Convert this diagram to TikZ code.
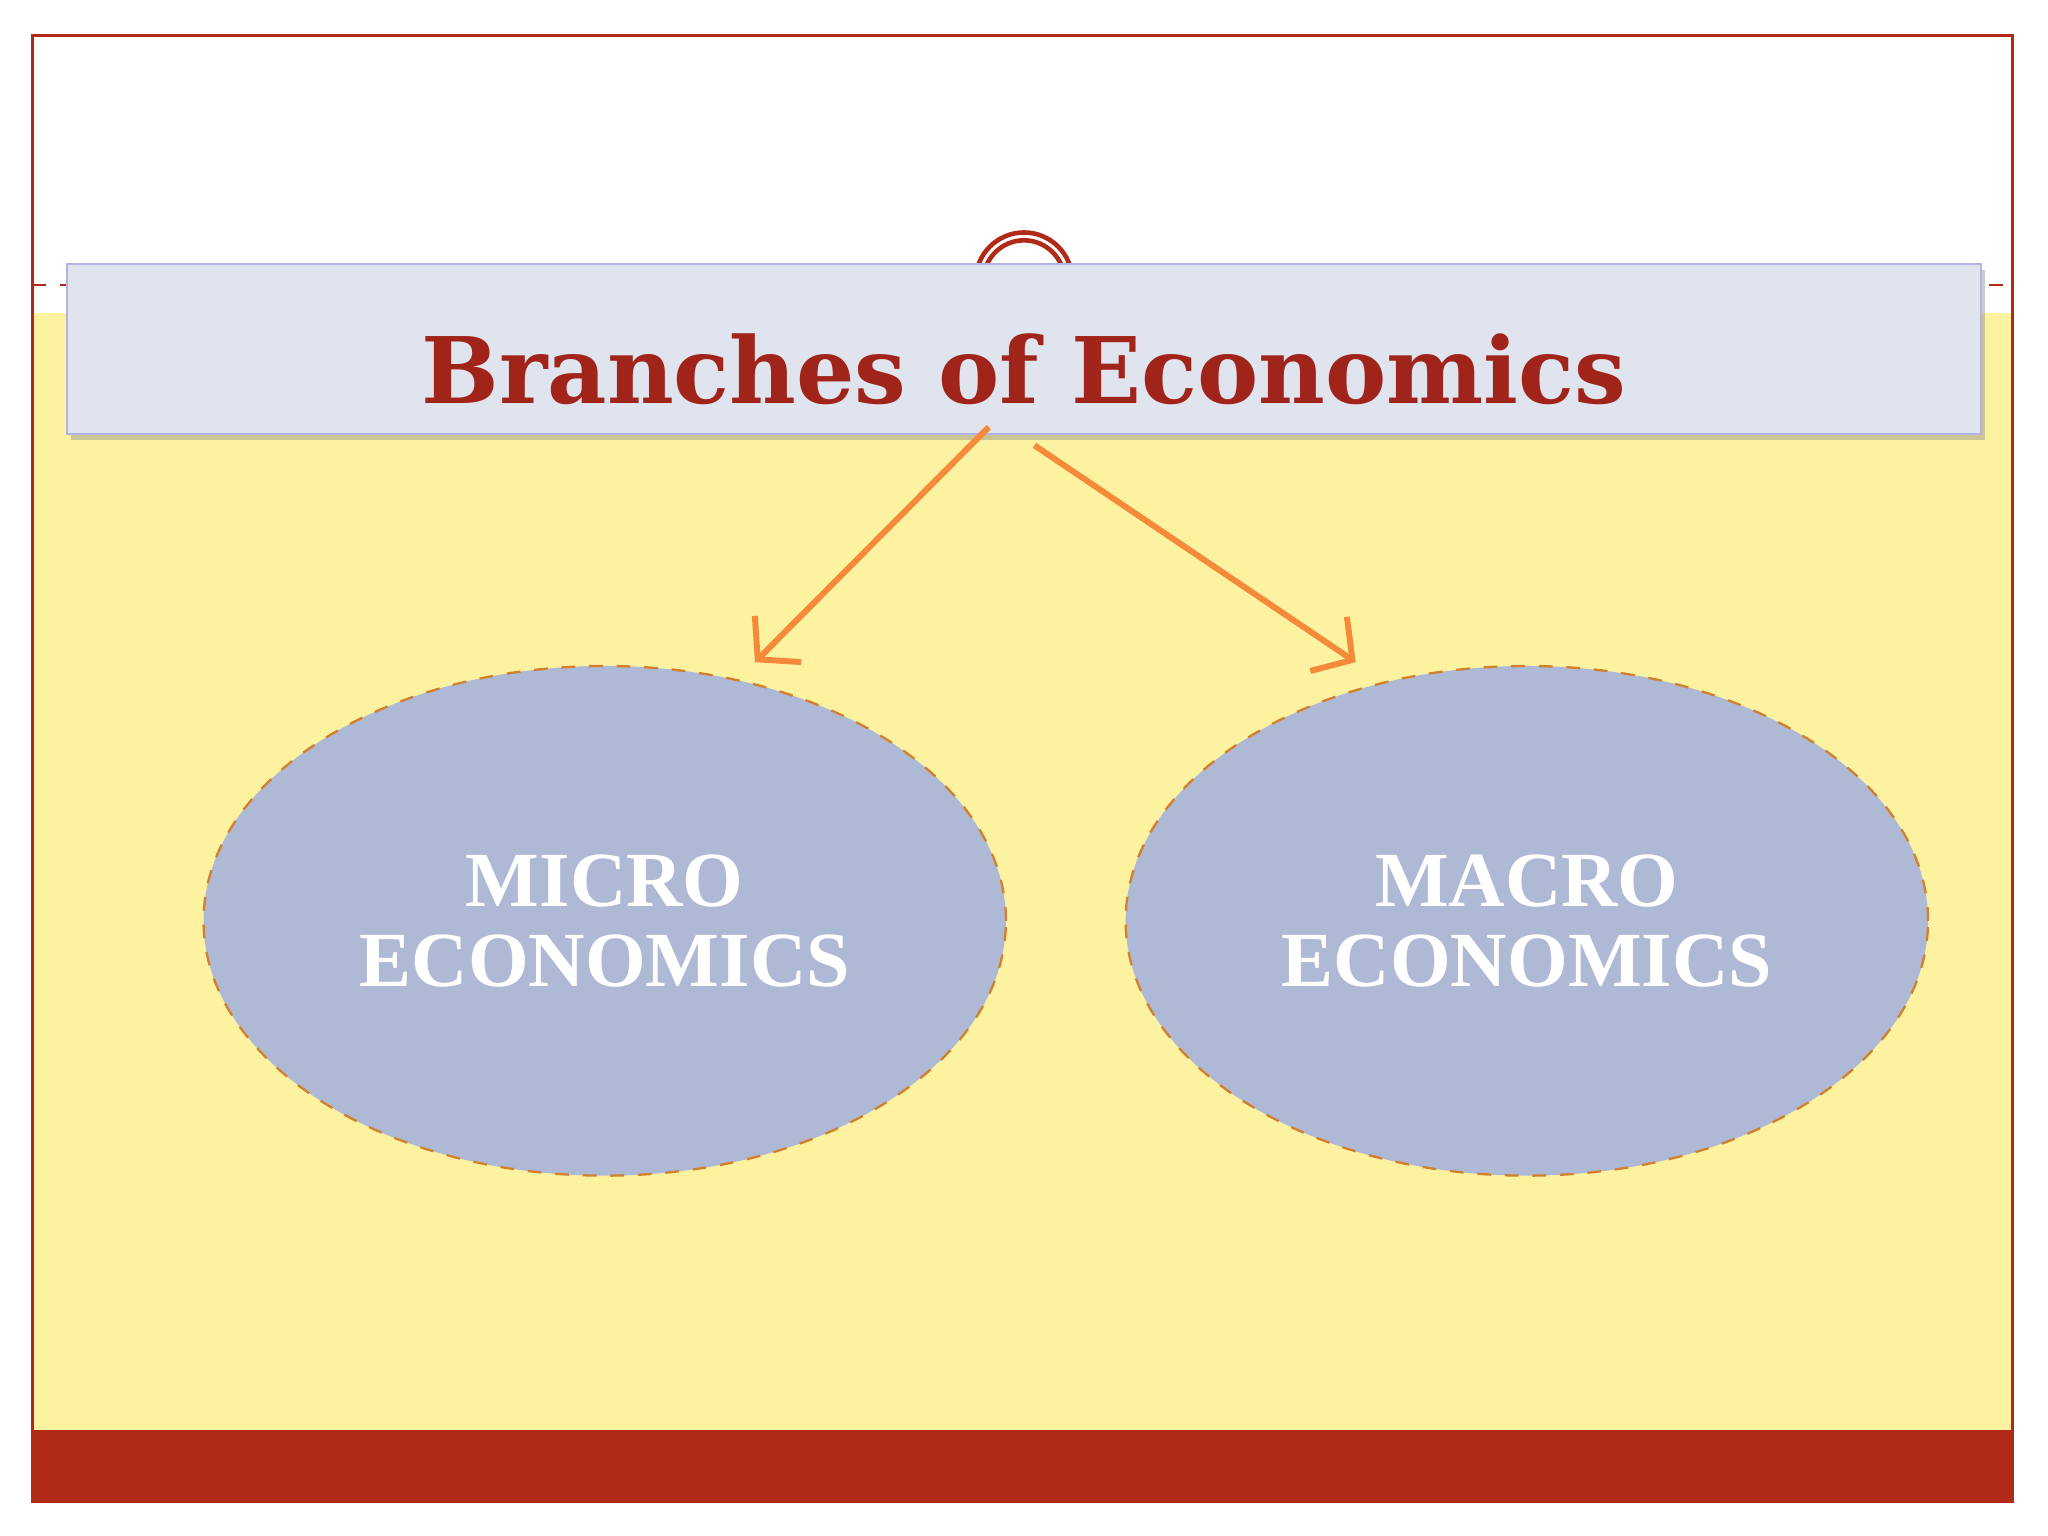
\documentclass[tikz,border=0pt]{standalone}
\usepackage{fontspec}
\setmainfont{Liberation Serif}
\newfontfamily\titlefont{DejaVu Serif}
\usetikzlibrary{arrows.meta,shapes.geometric,shadows}
\definecolor{bgyellow}{HTML}{FDF2A0}
\definecolor{barred}{HTML}{B02A17}
\definecolor{titlered}{HTML}{A0241A}
\definecolor{boxfill}{HTML}{E0E4EE}
\definecolor{ellfill}{HTML}{AEB9D5}
\definecolor{arrorange}{HTML}{F58A3A}
\tikzset{
  branch/.style={ellipse, fill=ellfill, draw=brown!70!orange, dashed, line width=0.5pt,
    minimum width=6.14cm, minimum height=3.9cm, font=\fontsize{17}{17.5}\selectfont\bfseries,
    text=white, align=center},
  conn/.style={draw=arrorange, line width=1.3pt, -{Straight Barb[length=0.22cm,width=0.5cm]}}
}
\begin{document}
\begin{tikzpicture}[x=0.01cm,y=-0.01cm]
\useasboundingbox (0,0) rectangle (1568,1176);
\fill[white] (0,0) rectangle (1568,1176);
\fill[bgyellow] (25,240) rectangle (1541,1095);
\fill[barred] (25,1095) rectangle (1541,1150);
\draw[barred, dashed, line width=0.4pt] (25,218) -- (1541,218);
\draw[barred, line width=0.6pt] (25,27) rectangle (1541,1150);
\draw[barred, line width=1pt] (784,215) circle (37);
\draw[barred, line width=1pt] (784,215) circle (31);
\node[draw=gray!50!blue!40, fill=boxfill, minimum width=14.64cm, minimum height=1.3cm,
  drop shadow={shadow xshift=0.03cm, shadow yshift=-0.05cm, opacity=0.4}] (title) at (784,267) {};
\node[font=\titlefont\fontsize{20}{24}\selectfont\bfseries, text=titlered] (tt) at (784,283) {Branches of Economics};
\node[branch] (micro) at (463,705) {MICRO\\ECONOMICS};
\node[branch] (macro) at (1169,705) {MACRO\\ECONOMICS};
\coordinate (s1) at (757,327);
\coordinate (e1) at (578,507);
\coordinate (s2) at (792,341);
\coordinate (e2) at (1038,507);
\draw[conn] (s1) -- (e1);
\draw[conn] (s2) -- (e2);
\end{tikzpicture}
\end{document}
